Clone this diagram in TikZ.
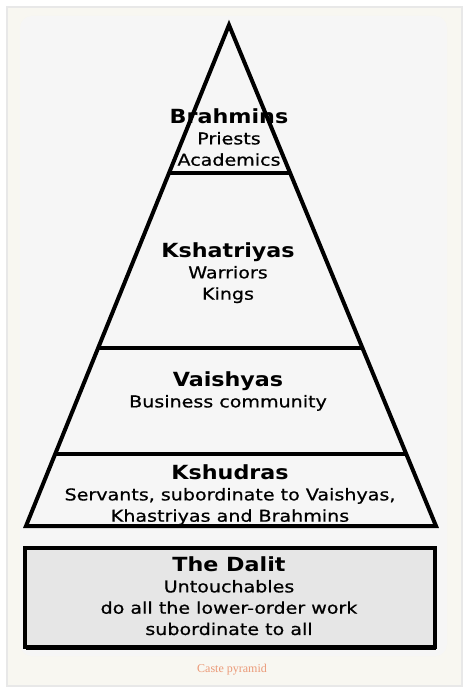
\documentclass[tikz,border=0pt]{standalone}
\usepackage{fontspec}
\setmainfont[FakeStretch=1.14]{DejaVu Sans}
\newfontfamily\dutyfont[FakeStretch=1.17,FakeBold=0.7]{DejaVu Sans}
\newfontfamily\capfont{Liberation Serif}
\usetikzlibrary{positioning,calc}
\definecolor{cream}{HTML}{F8F7F1}
\definecolor{panel}{HTML}{F6F6F6}
\definecolor{capred}{HTML}{EB9A78}
\definecolor{dalitgray}{HTML}{E6E6E6}

\begin{document}
\begin{tikzpicture}[x=1pt,y=-1pt, node distance=4.6pt, every node/.style={align=center,inner sep=0pt},
  caste/.style={font=\fontsize{19.5}{21}\selectfont\bfseries,text height=15pt,text depth=4pt,anchor=base},
  duty/.style={font=\dutyfont\fontsize{16.3}{21.3}\selectfont},
  tier/.style={line width=4pt,line join=miter}]
\useasboundingbox (0,0) rectangle (468,693);
\fill[gray!18] (6,6) rectangle (463,687);
\fill[cream] (8,8) rectangle (461,685);
\fill[panel,rounded corners=12pt] (20,16) rectangle (447,656);
% pyramid
\coordinate (apex) at (229,25);
\coordinate (bl) at (26,526);
\coordinate (br) at (436,526);
\draw[tier] (apex) -- (bl) -- (br) -- cycle;
\foreach \t in {0.2954,0.6447,0.8563}
  \draw[tier] ($(apex)!\t!(bl)$) -- ($(apex)!\t!(br)$);
% dalit box
\fill[black] (26,551) rectangle (436,650);
\draw[line width=4pt,fill=dalitgray] (25,548) rectangle (435,647);
% texts
\node[caste] (brahmins) at (229,123) {Brahmins};
\node[duty,below=of brahmins] (brahminsduty) {Priests\\Academics};
\node[caste] (kshatriyas) at (228,257) {Kshatriyas};
\node[duty,below=of kshatriyas] (kshatriyasduty) {Warriors\\Kings};
\node[caste] (vaishyas) at (228,386) {Vaishyas};
\node[duty,below=of vaishyas] (vaishyasduty) {Business community};
\node[caste] (kshudras) at (230,479) {Kshudras};
\node[duty,below=of kshudras] (kshudrasduty) {Servants, subordinate to Vaishyas,\\Khastriyas and Brahmins};
\node[caste] (dalit) at (229,571) {The Dalit};
\node[duty,below=of dalit] (dalitduty) {Untouchables\\do all the lower-order work\\subordinate to all};
\node[font=\capfont\fontsize{12}{14}\selectfont,text=capred,anchor=base] (caption) at (232,672) {Caste pyramid};
\end{tikzpicture}
\end{document}
